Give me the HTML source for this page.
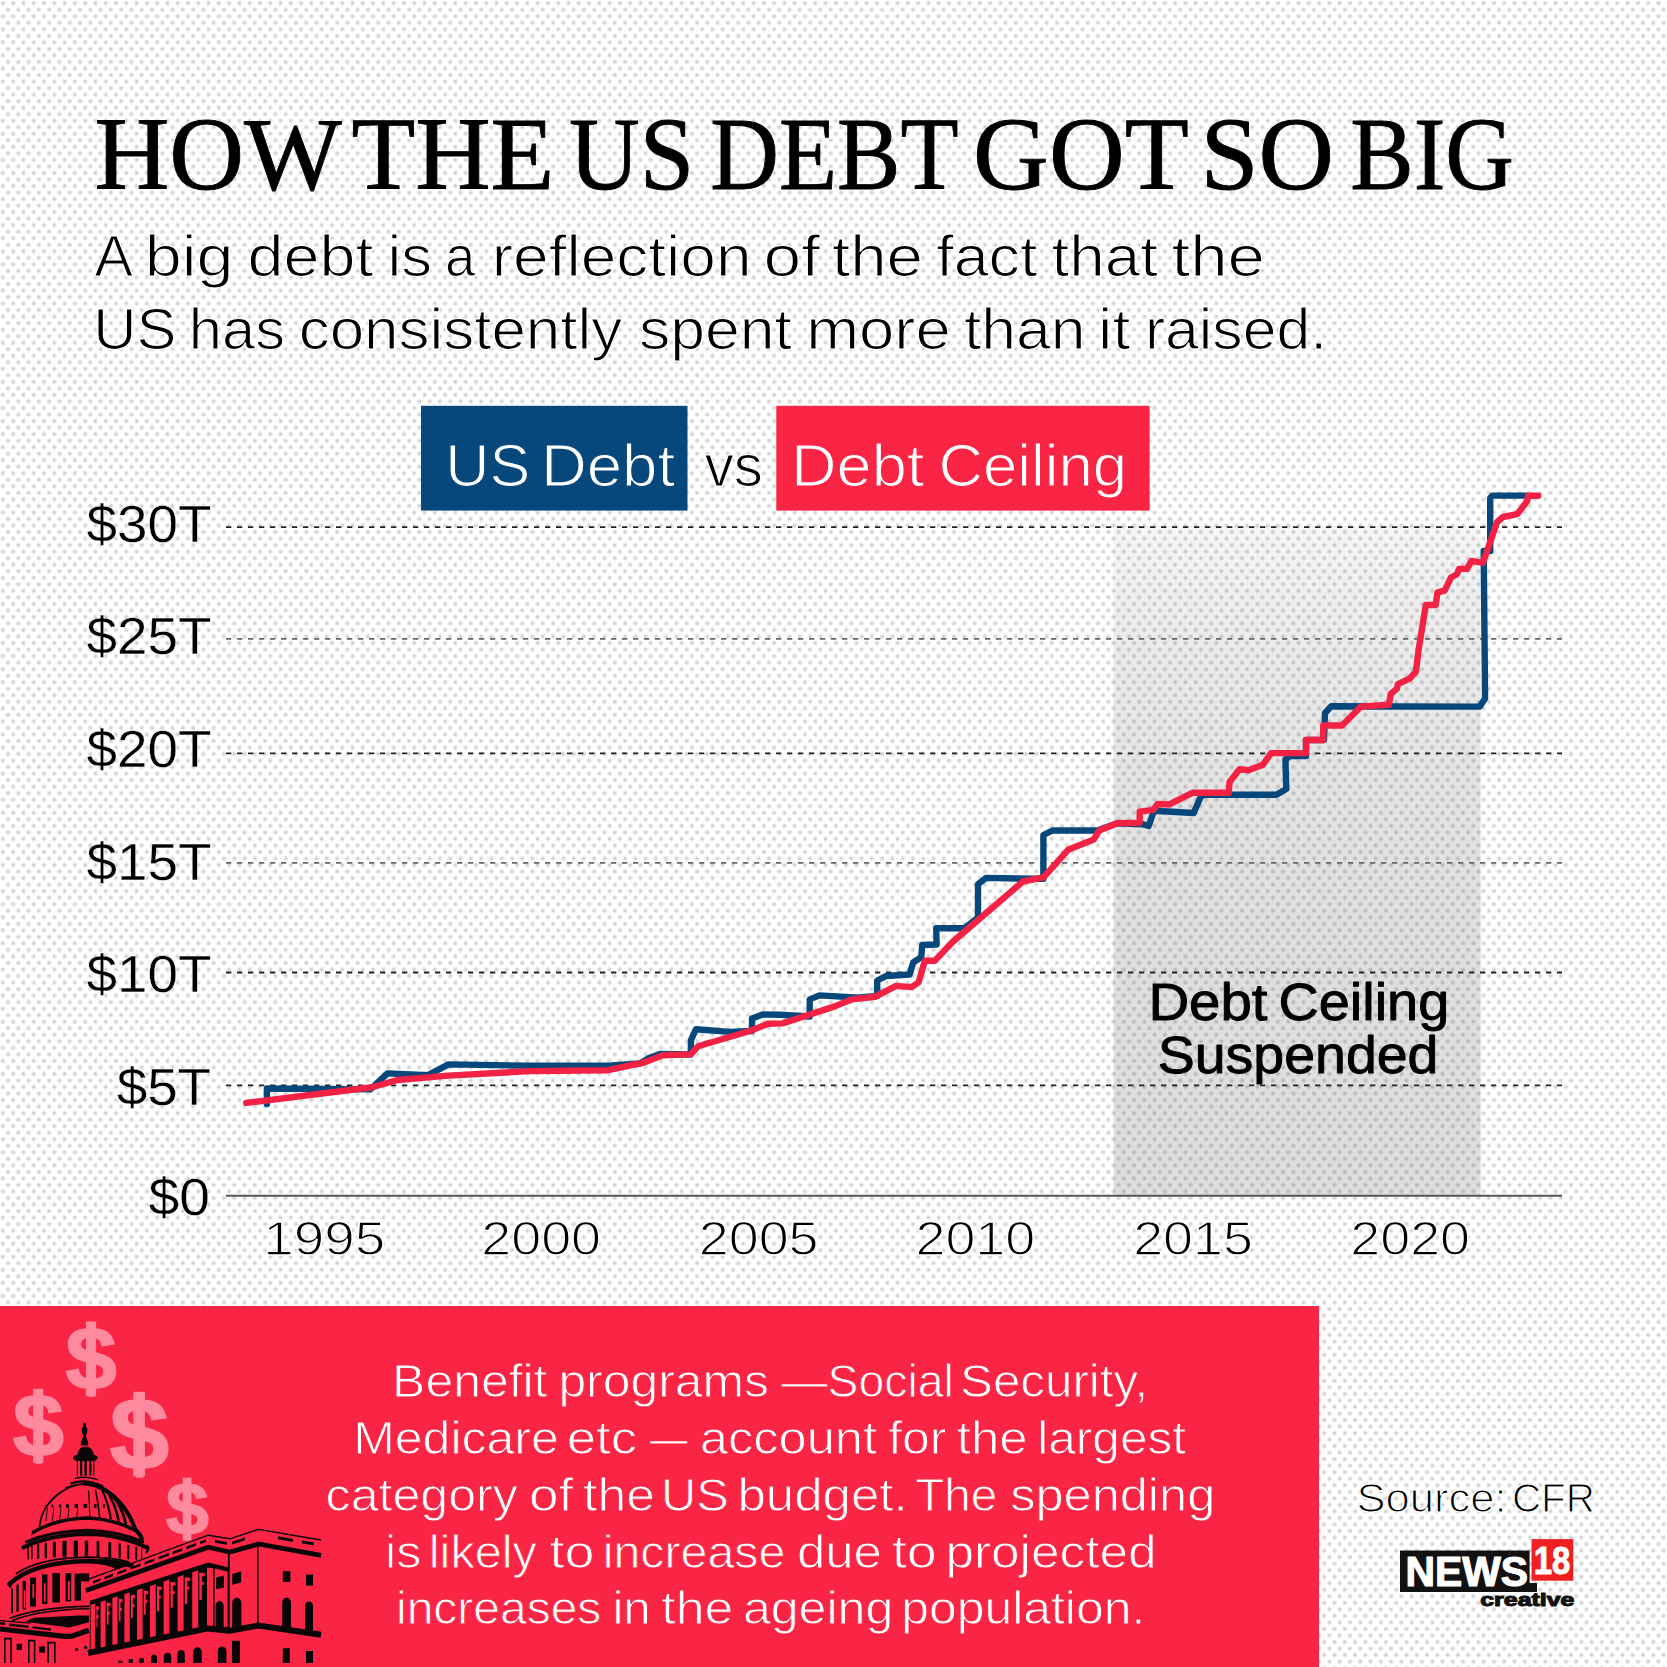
<!DOCTYPE html>
<html><head><meta charset="utf-8"><title>How the US debt got so big</title>
<style>
html,body{margin:0;padding:0;background:#fff;}
body{width:1667px;height:1667px;overflow:hidden;position:relative;font-family:"Liberation Sans",sans-serif;}
svg{position:absolute;left:0;top:0;display:block;}
text{font-family:"Liberation Sans",sans-serif;white-space:pre;}
.serif{font-family:"Liberation Serif",serif;}
</style></head><body>
<svg width="1667" height="1667" viewBox="0 0 1667 1667">
<defs>
<radialGradient id="dg"><stop offset="0" stop-color="#c6c6c6"/><stop offset="0.3" stop-color="#cdcdcd" stop-opacity="0.88"/><stop offset="1" stop-color="#d2d2d2" stop-opacity="0"/></radialGradient>
<pattern id="dots" x="-2.241" y="-3.329" width="10.283" height="13.058" patternUnits="userSpaceOnUse">
<circle cx="5.1415" cy="6.5290" r="3" fill="url(#dg)"/>
<circle cx="0" cy="0" r="3" fill="url(#dg)"/><circle cx="10.283" cy="0" r="3" fill="url(#dg)"/>
<circle cx="0" cy="13.058" r="3" fill="url(#dg)"/><circle cx="10.283" cy="13.058" r="3" fill="url(#dg)"/>
</pattern>
<linearGradient id="band" x1="0" y1="0" x2="0" y2="1"><stop offset="0" stop-color="#000" stop-opacity="0.035"/><stop offset="0.17" stop-color="#000" stop-opacity="0.075"/><stop offset="0.34" stop-color="#000" stop-opacity="0.1"/><stop offset="0.5" stop-color="#000" stop-opacity="0.115"/><stop offset="0.67" stop-color="#000" stop-opacity="0.125"/><stop offset="1" stop-color="#000" stop-opacity="0.13"/></linearGradient>
</defs>
<rect width="1667" height="1667" fill="#fff"/>
<rect width="1667" height="1667" fill="url(#dots)"/>

<rect x="421" y="405.8" width="266.5" height="104.8" fill="#06487c"/>
<rect x="776.3" y="405.8" width="373.3" height="104.8" fill="#fa2445"/>
<rect x="1113.7" y="526" width="367" height="669.8" fill="url(#band)"/>
<line x1="226" y1="527.1" x2="1562" y2="527.1" stroke="#222" stroke-width="1.8" stroke-dasharray="5.3 5.7"/>
<line x1="226" y1="638.9" x2="1562" y2="638.9" stroke="#666" stroke-width="1.8" stroke-dasharray="5.3 5.7"/>
<line x1="226" y1="753.4" x2="1562" y2="753.4" stroke="#222" stroke-width="1.8" stroke-dasharray="5.3 5.7"/>
<line x1="226" y1="862.9" x2="1562" y2="862.9" stroke="#666" stroke-width="1.8" stroke-dasharray="5.3 5.7"/>
<line x1="226" y1="972.5" x2="1562" y2="972.5" stroke="#222" stroke-width="1.8" stroke-dasharray="5.3 5.7"/>
<line x1="226" y1="1085.4" x2="1562" y2="1085.4" stroke="#222" stroke-width="1.8" stroke-dasharray="5.3 5.7"/>
<line x1="226" y1="1195.8" x2="1562" y2="1195.8" stroke="#555" stroke-width="2"/>
<rect x="0" y="1306" width="1319" height="361" fill="#fa2445"/>
<path d="M266.9,1104.0 L266.9,1088.5 L370.4,1089.4 L387.5,1073.4 L428.0,1075.2 L448.6,1064.4 L530.0,1065.7 L611.6,1065.5 L640.0,1063.5 L649.0,1058.0 L660.0,1054.0 L690.7,1054.5 L691.0,1040.0 L696.0,1029.2 L730.0,1031.9 L752.0,1031.0 L752.0,1018.4 L762.7,1014.4 L780.0,1014.7 L809.7,1016.5 L809.7,999.4 L819.6,995.4 L857.4,997.6 L877.2,996.0 L877.2,980.5 L886.2,976.0 L909.6,974.5 L913.2,962.5 L921.3,957.1 L922.2,945.0 L936.6,944.5 L936.2,928.3 L964.4,928.3 L978.0,917.5 L978.0,884.2 L986.0,877.9 L1032.0,878.8 L1043.4,878.8 L1043.4,835.0 L1052.4,830.5 L1097.4,830.5 L1117.2,823.3 L1142.4,824.2 L1148.7,826.0 L1154.0,810.7 L1193.7,813.0 L1200.9,796.3 L1205.0,794.8 L1276.4,794.8 L1286.3,789.1 L1285.4,759.4 L1290.0,756.1 L1306.0,756.0 L1306.0,740.0 L1324.0,740.0 L1325.0,713.0 L1331.3,706.3 L1479.7,706.6 L1485.1,698.5 L1483.7,551.0 L1490.2,551.0 L1490.2,498.0 L1492.3,495.6 L1527.0,495.6" fill="none" stroke="#06487c" stroke-width="6.4" stroke-linejoin="round" stroke-linecap="round"/>
<path d="M246.2,1102.9 L372.2,1087.3 L397.4,1080.0 L448.6,1075.6 L530.0,1071.1 L608.0,1070.2 L644.0,1062.5 L662.9,1055.3 L690.7,1054.4 L698.0,1046.3 L750.0,1031.0 L768.0,1023.8 L782.5,1023.4 L834.0,1006.6 L852.0,999.4 L875.4,996.7 L896.0,985.9 L911.4,987.1 L918.6,982.3 L924.9,960.7 L934.8,960.7 L952.8,941.8 L1022.9,881.5 L1043.6,877.4 L1068.6,849.4 L1093.8,839.5 L1099.2,830.5 L1117.2,823.3 L1139.7,822.7 L1139.7,811.6 L1153.2,809.8 L1157.7,804.0 L1169.4,804.4 L1192.8,792.7 L1228.7,792.7 L1229.6,781.9 L1239.5,769.3 L1248.5,770.2 L1262.9,764.8 L1271.0,753.1 L1306.0,753.1 L1306.0,740.0 L1323.2,740.0 L1323.2,725.5 L1342.0,725.5 L1361.0,706.6 L1388.9,704.8 L1390.7,694.0 L1397.0,688.6 L1397.9,684.1 L1409.6,678.7 L1415.9,671.5 L1418.6,650.0 L1425.8,605.0 L1435.7,605.0 L1437.5,592.4 L1444.7,590.6 L1451.0,577.5 L1457.0,574.2 L1459.0,568.9 L1467.0,568.9 L1471.3,560.9 L1483.0,562.8 L1497.1,522.0 L1503.0,517.0 L1517.3,514.1 L1527.3,501.0 L1528.0,495.8 L1538.3,495.8" fill="none" stroke="#f32244" stroke-width="6.4" stroke-linejoin="round" stroke-linecap="round"/>
<text class="serif" x="94.4" y="188.7" font-size="104" textLength="247.5" lengthAdjust="spacingAndGlyphs" fill="#000" stroke="#000" stroke-width="0.9">HOW</text>
<text class="serif" x="351.4" y="188.7" font-size="104" textLength="203.0" lengthAdjust="spacingAndGlyphs" fill="#000" stroke="#000" stroke-width="0.9">THE</text>
<text class="serif" x="569.1" y="188.7" font-size="104" textLength="125.2" lengthAdjust="spacingAndGlyphs" fill="#000" stroke="#000" stroke-width="0.9">US</text>
<text class="serif" x="710.3" y="188.7" font-size="104" textLength="248.2" lengthAdjust="spacingAndGlyphs" fill="#000" stroke="#000" stroke-width="0.9">DEBT</text>
<text class="serif" x="973.1" y="188.7" font-size="104" textLength="215.7" lengthAdjust="spacingAndGlyphs" fill="#000" stroke="#000" stroke-width="0.9">GOT</text>
<text class="serif" x="1200.4" y="188.7" font-size="104" textLength="133.6" lengthAdjust="spacingAndGlyphs" fill="#000" stroke="#000" stroke-width="0.9">SO</text>
<text class="serif" x="1350.3" y="188.7" font-size="104" textLength="163.7" lengthAdjust="spacingAndGlyphs" fill="#000" stroke="#000" stroke-width="0.9">BIG</text>
<text x="94.4" y="276.4" font-size="57.5" textLength="38.5" lengthAdjust="spacingAndGlyphs" fill="#000" stroke="#fff" stroke-width="1.2">A</text>
<text x="144.8" y="276.4" font-size="57.5" textLength="88.8" lengthAdjust="spacingAndGlyphs" fill="#000" stroke="#fff" stroke-width="1.2">big</text>
<text x="247.6" y="276.4" font-size="57.5" textLength="125.9" lengthAdjust="spacingAndGlyphs" fill="#000" stroke="#fff" stroke-width="1.2">debt</text>
<text x="387.6" y="276.4" font-size="57.5" textLength="44.5" lengthAdjust="spacingAndGlyphs" fill="#000" stroke="#fff" stroke-width="1.2">is</text>
<text x="445.1" y="276.4" font-size="57.5" textLength="30.3" lengthAdjust="spacingAndGlyphs" fill="#000" stroke="#fff" stroke-width="1.2">a</text>
<text x="491.8" y="276.4" font-size="57.5" textLength="259.7" lengthAdjust="spacingAndGlyphs" fill="#000" stroke="#fff" stroke-width="1.2">reflection</text>
<text x="763.5" y="276.4" font-size="57.5" textLength="56.5" lengthAdjust="spacingAndGlyphs" fill="#000" stroke="#fff" stroke-width="1.2">of</text>
<text x="832.0" y="276.4" font-size="57.5" textLength="91.0" lengthAdjust="spacingAndGlyphs" fill="#000" stroke="#fff" stroke-width="1.2">the</text>
<text x="936.2" y="276.4" font-size="57.5" textLength="101.3" lengthAdjust="spacingAndGlyphs" fill="#000" stroke="#fff" stroke-width="1.2">fact</text>
<text x="1051.5" y="276.4" font-size="57.5" textLength="106.4" lengthAdjust="spacingAndGlyphs" fill="#000" stroke="#fff" stroke-width="1.2">that</text>
<text x="1171.5" y="276.4" font-size="57.5" textLength="93.5" lengthAdjust="spacingAndGlyphs" fill="#000" stroke="#fff" stroke-width="1.2">the</text>
<text x="93.3" y="349" font-size="57.5" textLength="83.2" lengthAdjust="spacingAndGlyphs" fill="#000" stroke="#fff" stroke-width="1.2">US</text>
<text x="188.8" y="349" font-size="57.5" textLength="96.2" lengthAdjust="spacingAndGlyphs" fill="#000" stroke="#fff" stroke-width="1.2">has</text>
<text x="298.7" y="349" font-size="57.5" textLength="323.5" lengthAdjust="spacingAndGlyphs" fill="#000" stroke="#fff" stroke-width="1.2">consistently</text>
<text x="638.9" y="349" font-size="57.5" textLength="153.0" lengthAdjust="spacingAndGlyphs" fill="#000" stroke="#fff" stroke-width="1.2">spent</text>
<text x="806.2" y="349" font-size="57.5" textLength="144.5" lengthAdjust="spacingAndGlyphs" fill="#000" stroke="#fff" stroke-width="1.2">more</text>
<text x="963.9" y="349" font-size="57.5" textLength="121.6" lengthAdjust="spacingAndGlyphs" fill="#000" stroke="#fff" stroke-width="1.2">than</text>
<text x="1098.1" y="349" font-size="57.5" textLength="32.3" lengthAdjust="spacingAndGlyphs" fill="#000" stroke="#fff" stroke-width="1.2">it</text>
<text x="1144.9" y="349" font-size="57.5" textLength="182.2" lengthAdjust="spacingAndGlyphs" fill="#000" stroke="#fff" stroke-width="1.2">raised.</text>
<text x="445.3" y="485.8" font-size="58.5" textLength="85.0" lengthAdjust="spacingAndGlyphs" fill="#fff" stroke="#06487c" stroke-width="1.2">US</text>
<text x="540.9" y="485.8" font-size="58.5" textLength="134.2" lengthAdjust="spacingAndGlyphs" fill="#fff" stroke="#06487c" stroke-width="1.2">Debt</text>
<text x="704.7" y="485.8" font-size="58.5" textLength="58.1" lengthAdjust="spacingAndGlyphs" fill="#000" stroke="#fff" stroke-width="1.2">vs</text>
<text x="791.0" y="485.8" font-size="58.5" textLength="133.4" lengthAdjust="spacingAndGlyphs" fill="#fff" stroke="#fa2445" stroke-width="1.2">Debt</text>
<text x="938.4" y="485.8" font-size="58.5" textLength="188.8" lengthAdjust="spacingAndGlyphs" fill="#fff" stroke="#fa2445" stroke-width="1.2">Ceiling</text>
<text x="86.6" y="541.8" font-size="52" textLength="124.9" lengthAdjust="spacingAndGlyphs" fill="#000" stroke="#fff" stroke-width="0.35">$30T</text>
<text x="86.6" y="653.7" font-size="52" textLength="124.9" lengthAdjust="spacingAndGlyphs" fill="#000" stroke="#fff" stroke-width="0.35">$25T</text>
<text x="86.6" y="766.8" font-size="52" textLength="124.9" lengthAdjust="spacingAndGlyphs" fill="#000" stroke="#fff" stroke-width="0.35">$20T</text>
<text x="86.6" y="879.7" font-size="52" textLength="124.9" lengthAdjust="spacingAndGlyphs" fill="#000" stroke="#fff" stroke-width="0.35">$15T</text>
<text x="86.6" y="991.9" font-size="52" textLength="124.9" lengthAdjust="spacingAndGlyphs" fill="#000" stroke="#fff" stroke-width="0.35">$10T</text>
<text x="116.7" y="1104.5" font-size="52" textLength="94.4" lengthAdjust="spacingAndGlyphs" fill="#000" stroke="#fff" stroke-width="0.35">$5T</text>
<text x="148.5" y="1214.8" font-size="52" textLength="61.4" lengthAdjust="spacingAndGlyphs" fill="#000" stroke="#fff" stroke-width="0.35">$0</text>
<text x="263.3" y="1254.5" font-size="48" textLength="122.0" lengthAdjust="spacingAndGlyphs" fill="#000" stroke="#fff" stroke-width="1.3">1995</text>
<text x="481.3" y="1254.5" font-size="48" textLength="119.7" lengthAdjust="spacingAndGlyphs" fill="#000" stroke="#fff" stroke-width="1.3">2000</text>
<text x="698.8" y="1254.5" font-size="48" textLength="119.7" lengthAdjust="spacingAndGlyphs" fill="#000" stroke="#fff" stroke-width="1.3">2005</text>
<text x="915.5" y="1254.5" font-size="48" textLength="119.7" lengthAdjust="spacingAndGlyphs" fill="#000" stroke="#fff" stroke-width="1.3">2010</text>
<text x="1133.2" y="1254.5" font-size="48" textLength="119.7" lengthAdjust="spacingAndGlyphs" fill="#000" stroke="#fff" stroke-width="1.3">2015</text>
<text x="1350.3" y="1254.5" font-size="48" textLength="119.7" lengthAdjust="spacingAndGlyphs" fill="#000" stroke="#fff" stroke-width="1.3">2020</text>
<text x="1148.4" y="1020.2" font-size="51" textLength="119.1" lengthAdjust="spacingAndGlyphs" fill="#000" stroke="#000" stroke-width="0.9" stroke-linejoin="round">Debt</text>
<text x="1278.4" y="1020.2" font-size="51" textLength="170.9" lengthAdjust="spacingAndGlyphs" fill="#000" stroke="#000" stroke-width="0.9" stroke-linejoin="round">Ceiling</text>
<text x="1157.7" y="1073.2" font-size="51" textLength="280.8" lengthAdjust="spacingAndGlyphs" fill="#000" stroke="#000" stroke-width="0.9" stroke-linejoin="round">Suspended</text>
<text x="392.1" y="1397" font-size="47" textLength="155.4" lengthAdjust="spacingAndGlyphs" fill="#fff" stroke="#fa2445" stroke-width="0.9">Benefit</text>
<text x="558.4" y="1397" font-size="47" textLength="210.6" lengthAdjust="spacingAndGlyphs" fill="#fff" stroke="#fa2445" stroke-width="0.9">programs</text>
<text x="781.2" y="1397" font-size="47" textLength="172.7" lengthAdjust="spacingAndGlyphs" fill="#fff" stroke="#fa2445" stroke-width="0.9">—Social</text>
<text x="960.0" y="1397" font-size="47" textLength="188.2" lengthAdjust="spacingAndGlyphs" fill="#fff" stroke="#fa2445" stroke-width="0.9">Security,</text>
<text x="353.2" y="1454" font-size="47" textLength="205.5" lengthAdjust="spacingAndGlyphs" fill="#fff" stroke="#fa2445" stroke-width="0.9">Medicare</text>
<text x="566.8" y="1454" font-size="47" textLength="70.3" lengthAdjust="spacingAndGlyphs" fill="#fff" stroke="#fa2445" stroke-width="0.9">etc</text>
<text x="650.0" y="1454" font-size="47" textLength="37.4" lengthAdjust="spacingAndGlyphs" fill="#fff" stroke="#fa2445" stroke-width="0.9">—</text>
<text x="699.8" y="1454" font-size="47" textLength="177.3" lengthAdjust="spacingAndGlyphs" fill="#fff" stroke="#fa2445" stroke-width="0.9">account</text>
<text x="888.2" y="1454" font-size="47" textLength="58.3" lengthAdjust="spacingAndGlyphs" fill="#fff" stroke="#fa2445" stroke-width="0.9">for</text>
<text x="956.8" y="1454" font-size="47" textLength="70.7" lengthAdjust="spacingAndGlyphs" fill="#fff" stroke="#fa2445" stroke-width="0.9">the</text>
<text x="1037.3" y="1454" font-size="47" textLength="148.7" lengthAdjust="spacingAndGlyphs" fill="#fff" stroke="#fa2445" stroke-width="0.9">largest</text>
<text x="325.6" y="1511" font-size="47" textLength="192.2" lengthAdjust="spacingAndGlyphs" fill="#fff" stroke="#fa2445" stroke-width="0.9">category</text>
<text x="529.0" y="1511" font-size="47" textLength="44.3" lengthAdjust="spacingAndGlyphs" fill="#fff" stroke="#fa2445" stroke-width="0.9">of</text>
<text x="583.1" y="1511" font-size="47" textLength="71.8" lengthAdjust="spacingAndGlyphs" fill="#fff" stroke="#fa2445" stroke-width="0.9">the</text>
<text x="661.0" y="1511" font-size="47" textLength="67.8" lengthAdjust="spacingAndGlyphs" fill="#fff" stroke="#fa2445" stroke-width="0.9">US</text>
<text x="737.5" y="1511" font-size="47" textLength="170.1" lengthAdjust="spacingAndGlyphs" fill="#fff" stroke="#fa2445" stroke-width="0.9">budget.</text>
<text x="915.2" y="1511" font-size="47" textLength="82.1" lengthAdjust="spacingAndGlyphs" fill="#fff" stroke="#fa2445" stroke-width="0.9">The</text>
<text x="1010.2" y="1511" font-size="47" textLength="205.1" lengthAdjust="spacingAndGlyphs" fill="#fff" stroke="#fa2445" stroke-width="0.9">spending</text>
<text x="385.0" y="1567.5" font-size="47" textLength="36.2" lengthAdjust="spacingAndGlyphs" fill="#fff" stroke="#fa2445" stroke-width="0.9">is</text>
<text x="428.8" y="1567.5" font-size="47" textLength="108.0" lengthAdjust="spacingAndGlyphs" fill="#fff" stroke="#fa2445" stroke-width="0.9">likely</text>
<text x="549.6" y="1567.5" font-size="47" textLength="44.9" lengthAdjust="spacingAndGlyphs" fill="#fff" stroke="#fa2445" stroke-width="0.9">to</text>
<text x="602.7" y="1567.5" font-size="47" textLength="182.6" lengthAdjust="spacingAndGlyphs" fill="#fff" stroke="#fa2445" stroke-width="0.9">increase</text>
<text x="796.9" y="1567.5" font-size="47" textLength="84.9" lengthAdjust="spacingAndGlyphs" fill="#fff" stroke="#fa2445" stroke-width="0.9">due</text>
<text x="891.9" y="1567.5" font-size="47" textLength="44.9" lengthAdjust="spacingAndGlyphs" fill="#fff" stroke="#fa2445" stroke-width="0.9">to</text>
<text x="945.4" y="1567.5" font-size="47" textLength="211.2" lengthAdjust="spacingAndGlyphs" fill="#fff" stroke="#fa2445" stroke-width="0.9">projected</text>
<text x="396.0" y="1624.3" font-size="47" textLength="205.3" lengthAdjust="spacingAndGlyphs" fill="#fff" stroke="#fa2445" stroke-width="0.9">increases</text>
<text x="612.4" y="1624.3" font-size="47" textLength="38.4" lengthAdjust="spacingAndGlyphs" fill="#fff" stroke="#fa2445" stroke-width="0.9">in</text>
<text x="661.3" y="1624.3" font-size="47" textLength="71.9" lengthAdjust="spacingAndGlyphs" fill="#fff" stroke="#fa2445" stroke-width="0.9">the</text>
<text x="742.9" y="1624.3" font-size="47" textLength="150.4" lengthAdjust="spacingAndGlyphs" fill="#fff" stroke="#fa2445" stroke-width="0.9">ageing</text>
<text x="901.2" y="1624.3" font-size="47" textLength="244.1" lengthAdjust="spacingAndGlyphs" fill="#fff" stroke="#fa2445" stroke-width="0.9">population.</text>
<text x="1356.5" y="1512" font-size="41.5" textLength="150.2" lengthAdjust="spacingAndGlyphs" fill="#000" stroke="#fff" stroke-width="1.2">Source:</text>
<text x="1511.9" y="1512" font-size="41.5" textLength="83.0" lengthAdjust="spacingAndGlyphs" fill="#000" stroke="#fff" stroke-width="1.2">CFR</text>
<path d="M1400,1550.4 L1529.6,1550.4 L1529.6,1583 L1537,1583 L1537,1591.9 L1400,1591.9z" fill="#111"/>
<rect x="1531.5" y="1539.1" width="41.8" height="41.6" fill="#ef1f22"/>
<text x="1405.4" y="1586.1" font-size="41.8" font-weight="bold" textLength="122.6" lengthAdjust="spacingAndGlyphs" fill="#fff" stroke="#fff" stroke-width="1.2" stroke-linejoin="round">NEWS</text>
<text x="1533.7" y="1573.6" font-size="39.4" font-weight="bold" textLength="36.5" lengthAdjust="spacingAndGlyphs" fill="#fff" stroke="#fff" stroke-width="1" stroke-linejoin="round">18</text>
<text x="1480.2" y="1606" font-size="19" font-weight="bold" textLength="94.3" lengthAdjust="spacingAndGlyphs" fill="#111" stroke="#111" stroke-width="1.1" stroke-linejoin="round">creative</text>
<g id="capitol">
<text transform="matrix(0.9308 0 0 0.8927 65.34 1389.15)" x="0" y="0" font-size="100" font-weight="bold" fill="#ff8a9d" stroke="#ff8a9d" stroke-width="1.5">$</text>
<rect x="85.9" y="1321.5" width="10.2" height="74.6" fill="#ff8a9d"/>
<text transform="matrix(0.9288 0 0 0.8854 12.54 1456.00)" x="0" y="0" font-size="100" font-weight="bold" fill="#ff8a9d" stroke="#ff8a9d" stroke-width="1.5">$</text>
<rect x="33.1" y="1388.9" width="10.2" height="74.0" fill="#ff8a9d"/>
<text transform="matrix(1.0750 0 0 1.0134 109.45 1468.51)" x="0" y="0" font-size="100" font-weight="bold" fill="#ff8a9d" stroke="#ff8a9d" stroke-width="1.5">$</text>
<rect x="133.3" y="1391.8" width="11.7" height="84.5" fill="#ff8a9d"/>
<text transform="matrix(0.7846 0 0 0.7476 165.43 1534.47)" x="0" y="0" font-size="100" font-weight="bold" fill="#ff8a9d" stroke="#ff8a9d" stroke-width="1.5">$</text>
<rect x="182.7" y="1477.7" width="8.7" height="62.7" fill="#ff8a9d"/>
<g fill="#0a0608" stroke="none">
<path d="M84.6,1422.6 C85.8,1422.6 86.4,1423.6 86.2,1424.8 L85.8,1426.6 C87.2,1427.4 87.6,1428.6 87.4,1430.4 L87,1433 L86,1435 L86.2,1437.6 C86.8,1439 87.8,1440.4 88,1442.4 L88.2,1445.6 L80.8,1445.6 L81,1442.4 C81.2,1440.4 82.4,1439 83,1437.6 L83.2,1435 L82.2,1433 L81.8,1430.4 C81.6,1428.6 82,1427.4 83.4,1426.6 L83,1424.8 C82.8,1423.6 83.4,1422.6 84.6,1422.6z"/>
<path d="M77.4,1455.4 C78,1449.6 81,1446.8 85.4,1446.6 C90,1446.8 93.2,1449.6 94,1455.4z"/>
<path d="M73,1457.6 C73.4,1455.4 77,1454.2 85.4,1454 C94,1454.2 97.4,1455.4 97.8,1457.6 C97.6,1459.2 96.4,1460.4 94.6,1461 L76.2,1461 C74.4,1460.4 73.2,1459.2 73,1457.6z"/>
</g>
<g fill="#0a0608">
<rect x="76.8" y="1461" width="1.2" height="14.6"/>
<rect x="80" y="1461" width="2.2" height="14.6"/>
<rect x="84.4" y="1461" width="2.4" height="14.6"/>
<rect x="89.5" y="1461" width="1.9" height="14.6"/>
<rect x="93.2" y="1461" width="1.2" height="14.6"/>
</g>
<g fill="none" stroke="#0a0608" stroke-linecap="round">
<path d="M75.4,1478.2 Q85.5,1475.6 97.2,1479.6" stroke-width="1.6"/>
<path d="M71.2,1483.4 Q85.5,1478.4 102.4,1486" stroke-width="2.2"/>
<path d="M66,1487.6 Q85,1481.4 100,1486.4" stroke-width="1.2"/>
<path d="M39.6,1526 C41,1512 50,1496 71,1486.6 C76,1484.6 81,1483.8 85.2,1483.8" stroke-width="1.8"/>
<path d="M85.2,1483.8 C99,1484.6 112,1493 122,1505 C129,1514 133,1522 135.4,1530" stroke-width="4"/>
<path d="M88.6,1491 C89.2,1500 89.6,1508 89.8,1516.2" stroke-width="1.2"/>
<path d="M95.6,1490.4 C97.4,1499 98.8,1508 99.6,1516.8" stroke-width="1.6"/>
<path d="M102,1489.6 C106,1498 109,1508 110.8,1518.4" stroke-width="2.2"/>
<path d="M107.4,1491.6 C112.6,1500 116.6,1510 118.6,1520.8" stroke-width="2.6"/>
<path d="M112.4,1494.6 C118.6,1503 123.4,1512 125.8,1523.6" stroke-width="2.8"/>
<path d="M47.4,1508 L46,1520.6" stroke-width="0.9"/>
<path d="M53.8,1508 L52.4,1520.6" stroke-width="0.9"/>
<path d="M61.0,1508 L59.6,1520.6" stroke-width="0.9"/>
<path d="M69.0,1508 L67.6,1520.6" stroke-width="0.9"/>
<path d="M77.80000000000001,1508 L76.4,1520.6" stroke-width="0.9"/>
</g>
<g fill="#0a0608">
<rect x="45.4" y="1504.9" width="1.6" height="2.2"/>
<rect x="51.4" y="1504.7" width="2" height="2.6"/>
<rect x="58.8" y="1504.5" width="2.4" height="3"/>
<rect x="66" y="1504.3" width="3" height="3.4"/>
<rect x="74.6" y="1504.1" width="3.4" height="3.8"/>
<rect x="83.6" y="1504.0" width="3.6" height="4"/>
<rect x="94" y="1504.1" width="2.6" height="3.8"/>
<rect x="103" y="1504.3" width="2" height="3.4"/>
</g>
<g fill="none" stroke="#0a0608" stroke-linecap="round">
<path d="M33.4,1532.2 C48,1523.4 66,1518.6 86.6,1518 C104,1518.4 121,1523 135.6,1530.4" stroke-width="3.4"/>
<path d="M31.6,1534.6 C40,1528.6 52,1524 64,1521.6" stroke-width="1"/>
<path d="M134.8,1529 C138,1532 140.6,1535 141.8,1538.6" stroke-width="4.4"/>
<path d="M26.4,1541.8 C44,1534.2 64,1530.6 87.6,1530.2 C108,1530.6 127,1535 142.8,1541.8" stroke-width="3"/>
<path d="M23.4,1547.4 C42,1538.4 64,1534.4 87.6,1534 C110,1534.4 131,1539.6 147.6,1548" stroke-width="4"/>
<path d="M147,1546 C148.4,1548.4 148.2,1550.6 146.6,1552.4" stroke-width="2.4"/>
</g>
<g fill="#0a0608">
<rect x="27.4" y="1546.6" width="1.4" height="13" rx="0.7"/>
<rect x="31" y="1545.4" width="1.6" height="14" rx="0.8"/>
<rect x="37" y="1544" width="2.2" height="15" rx="1.1"/>
<rect x="44.6" y="1542.8" width="2.4" height="15.4" rx="1.2"/>
<rect x="52.8" y="1541.6" width="3.2" height="16" rx="1.4"/>
<rect x="62.4" y="1540.8" width="4.2" height="16.4" rx="1.4"/>
<rect x="73.6" y="1540.4" width="4.4" height="16.6" rx="1.4"/>
<rect x="84.8" y="1540.4" width="3.4" height="16.6" rx="1.4"/>
<rect x="96.6" y="1540.8" width="2.8" height="16.4" rx="1.4"/>
<rect x="108.4" y="1541.8" width="2.8" height="16" rx="1.4"/>
<rect x="118.6" y="1543.2" width="2.2" height="15.4" rx="1.1"/>
<rect x="127.2" y="1544.8" width="2.2" height="14.6" rx="1.1"/>
<rect x="135.4" y="1546.4" width="1.8" height="13.6" rx="0.9"/>
<rect x="141" y="1548" width="1.2" height="12.4" rx="0.6"/>
</g>
<g fill="none" stroke="#0a0608" stroke-linecap="round">
<path d="M16.4,1573.4 C34,1562 58,1557.6 88,1557.2 C104,1557.4 118,1559 129,1562" stroke-width="1.8"/>
<path d="M9.4,1584.2 C26,1568 56,1561.4 90,1561 C106,1561.2 120,1562.6 131.4,1565.4" stroke-width="4.6"/>
<path d="M9.4,1584.4 L10.6,1587" stroke-width="2"/>
</g>
<path d="M104,1559 C114,1559.4 124,1561 133.6,1563.4 L116.6,1569.6 C112,1566 100,1564 90,1563.6z" fill="#0a0608"/>
<g fill="#0a0608">
<rect x="11" y="1588.6" width="2" height="24.6"/>
<rect x="16.4" y="1584.6" width="2.4" height="27"/>
<rect x="22.6" y="1581" width="3.4" height="28.6"/>
<rect x="30" y="1577.6" width="6" height="29"/>
<rect x="42" y="1574.4" width="5.4" height="29.6"/>
<rect x="52.4" y="1573" width="7.6" height="29.6"/>
<rect x="65.6" y="1573" width="5.6" height="28.4"/>
<rect x="74.6" y="1573.6" width="6.4" height="27"/>
<rect x="80" y="1573.4" width="9.2" height="8"/>
</g>
<g fill="#fa2445">
<rect x="24" y="1590" width="1.4" height="18" rx="0.8"/>
<rect x="32.4" y="1584" width="1.8" height="14" rx="0.8"/>
<rect x="44" y="1583" width="1.6" height="19" rx="0.8"/>
<rect x="68" y="1581" width="1.8" height="19" rx="0.8"/>
</g>
<g fill="none" stroke="#0a0608" stroke-linecap="round">
<path d="M10,1618.2 C32,1610 60,1606.8 88.6,1606.4" stroke-width="1.6"/>
<path d="M12.4,1620.4 C34,1612.4 60,1609.2 88.6,1608.8" stroke-width="1.6"/>
</g>
<path d="M25.6,1621.2 L34,1617.8 L79.4,1615.6 L88.8,1615.4 L88.8,1622.2 L69.4,1627.4 L31,1622.4z" fill="#0a0608"/>
<g fill="none" stroke="#0a0608" stroke-linecap="butt">
<path d="M0,1620.6 L30.6,1623.2" stroke-width="1.2"/>
<path d="M0,1629 L64.8,1636.4 L71.6,1636.2 L88.8,1630.2" stroke-width="5.2" stroke-linejoin="round"/>
</g>
<g fill="#0a0608">
<path d="M0,1622.2 L5,1622.6 L5,1625 L0,1624.6z"/>
<path d="M9.2,1623.6 L28.6,1625.6 L28.4,1628 L9,1626z"/>
<path d="M32.6,1626.2 L51,1628.4 L50.8,1630.8 L32.4,1628.6z"/>
</g>
<g fill="none" stroke="#0a0608" stroke-width="1.6">
<path d="M4.8,1663 L4.8,1638.6 L11,1638.6 L11,1663"/>
<path d="M28.8,1663 L28.8,1640.6 L34.6,1640.6 L34.6,1663"/>
<path d="M48.2,1663 L48.2,1642.6 L54.8,1642.6 L54.8,1663"/>
</g>
<g fill="#0a0608">
<rect x="16.6" y="1643.8" width="5.4" height="6.2"/><rect x="39.2" y="1646.4" width="5.8" height="6.2"/>
<circle cx="76.6" cy="1649.6" r="1.7"/><circle cx="85.6" cy="1647.4" r="1.7"/>
</g>
<g fill="none" stroke="#0a0608" stroke-linejoin="miter">
<path d="M88.6,1579.2 L208.2,1535.2 L229.8,1538.8 L258.4,1529.4 L321,1540" stroke-width="1.4"/>
<path d="M86,1590.6 L208.2,1547.2 L229.8,1552 L258.4,1544 L321,1555.4" stroke-width="4.8"/>
<path d="M228.8,1552 L228.8,1628" stroke-width="1.8"/>
<path d="M257.8,1545 L257.8,1624.4" stroke-width="1.6"/>
<path d="M88,1653 L207,1628.6 L229.8,1630.8 L258.4,1625.6 L321,1634.8" stroke-width="6"/>
</g>
<g fill="#0a0608">
<path d="M93.0,1581.0 L100.5,1578.2 L100.5,1580.8 L93.0,1583.6z"/>
<path d="M104.5,1576.8 L113.0,1573.6 L113.0,1576.2 L104.5,1579.4z"/>
<path d="M117.0,1572.2 L126.5,1568.7 L126.5,1571.3 L117.0,1574.8z"/>
<path d="M130.5,1567.2 L140.5,1563.5 L140.5,1566.1 L130.5,1569.8z"/>
<path d="M144.6,1562.0 L154.4,1558.4 L154.4,1561.0 L144.6,1564.6z"/>
<path d="M158.4,1556.9 L169.0,1553.0 L169.0,1555.6 L158.4,1559.5z"/>
<path d="M172.6,1551.7 L182.4,1548.1 L182.4,1550.7 L172.6,1554.3z"/>
<path d="M186.4,1546.6 L196.0,1543.1 L196.0,1545.7 L186.4,1549.2z"/>
<path d="M200.0,1541.6 L206.0,1539.4 L206.0,1542.0 L200.0,1544.2z"/>
<path d="M215.0,1539.9 L227.0,1541.9 L227.0,1544.7 L215.0,1542.7z"/>
<path d="M232.0,1541.7 L245.0,1537.4 L245.0,1540.2 L232.0,1544.5z"/>
<path d="M278.0,1536.3 L293.0,1538.9 L293.0,1541.9 L278.0,1539.3z"/>
<path d="M302.0,1540.4 L313.6,1542.3 L313.6,1545.3 L302.0,1543.4z"/>
</g>
<path d="M89.8,1600.8 L208.2,1562.6 L228,1567.2 L228,1629 L207,1628.8 L89.8,1652z" fill="#0a0608"/>
<g fill="#fa2445">
<path d="M90.6,1605.0 L95.19999999999999,1603.6 L95.19999999999999,1648.5 L90.6,1649.5z"/>
<path d="M100.6,1601.8 L105.6,1600.2 L105.6,1646.4 L100.6,1647.4z"/>
<path d="M112.4,1598.0 L117.60000000000001,1596.3 L117.60000000000001,1643.9 L112.4,1645.0z"/>
<path d="M124.4,1594.1 L129.8,1592.4 L129.8,1641.4 L124.4,1642.5z"/>
<path d="M137,1590.1 L142.6,1588.3 L142.6,1638.8 L137,1640.0z"/>
<path d="M150,1585.9 L155.8,1584.0 L155.8,1636.1 L150,1637.3z"/>
<path d="M163.6,1581.5 L169.4,1579.6 L169.4,1633.3 L163.6,1634.5z"/>
<path d="M177.6,1577.0 L183.6,1575.0 L183.6,1630.4 L177.6,1631.6z"/>
<path d="M192.2,1572.3 L198.2,1570.3 L198.2,1627.4 L192.2,1628.6z"/>
<path d="M207,1567.5 L213.2,1568.3 L213.2,1626.0 L207,1625.6z"/>
<rect x="96.4" y="1606.2" width="1.1" height="21.1"/>
<rect x="96.4" y="1606.2" width="2.5" height="3.4"/>
<rect x="96.4" y="1615.2" width="2.1" height="3"/>
<rect x="106.8" y="1602.8" width="1.7" height="21.7"/>
<rect x="106.8" y="1602.8" width="3.7" height="3.4"/>
<rect x="106.8" y="1611.8" width="3.1" height="3"/>
<rect x="118.8" y="1598.9" width="1.7" height="22.4"/>
<rect x="118.8" y="1598.9" width="3.7" height="3.4"/>
<rect x="118.8" y="1607.9" width="3.1" height="3"/>
<rect x="131.0" y="1595.0" width="1.8" height="23.1"/>
<rect x="131.0" y="1595.0" width="4.1" height="3.4"/>
<rect x="131.0" y="1604.0" width="3.4" height="3"/>
<rect x="143.8" y="1590.9" width="1.9" height="23.8"/>
<rect x="143.8" y="1590.9" width="4.3" height="3.4"/>
<rect x="143.8" y="1599.9" width="3.5" height="3"/>
<rect x="157.0" y="1586.6" width="2.1" height="24.6"/>
<rect x="157.0" y="1586.6" width="4.6" height="3.4"/>
<rect x="157.0" y="1595.6" width="3.8" height="3"/>
<rect x="170.6" y="1582.2" width="2.2" height="25.4"/>
<rect x="170.6" y="1582.2" width="4.9" height="3.4"/>
<rect x="170.6" y="1591.2" width="4.1" height="3"/>
<rect x="184.8" y="1577.6" width="2.4" height="26.3"/>
<rect x="184.8" y="1577.6" width="5.3" height="3.4"/>
<rect x="184.8" y="1586.6" width="4.3" height="3"/>
<rect x="199.4" y="1572.9" width="2.4" height="27.1"/>
<rect x="199.4" y="1572.9" width="5.4" height="3.4"/>
<rect x="199.4" y="1581.9" width="4.5" height="3"/>
<path d="M214.6,1568.6 L227.6,1571.6 L227.6,1627 L214.6,1626.6z"/>
</g>
<g fill="#0a0608">
<path d="M216.2,1577.6 L224,1575.4 L224,1587.6 L216.2,1589.2z"/>
<path d="M215.6,1628 L215.6,1606 A4,4.6 0 0 1 223.6,1605.4 L223.6,1628z"/>
<path d="M232.2,1574 L241.2,1571.2 L241.2,1582.6 L232.2,1584.8z"/>
<path d="M232.2,1628 L232.2,1603.4 A4.6,5.4 0 0 1 241.4,1603 L241.4,1628z"/>
<rect x="282.8" y="1571.2" width="7.6" height="10.8"/>
<rect x="306" y="1574.6" width="7" height="11"/>
<path d="M282.2,1628.6 L282.2,1603 A4.4,5.6 0 0 1 291,1603 L291,1629.6z"/>
<path d="M305,1631.6 L305,1606.4 A4,5 0 0 1 313,1606.4 L313,1632.6z"/>
<rect x="118.4" y="1660.6" width="4.0" height="2.4"/>
<rect x="128.6" y="1659.2" width="4.2" height="3.8"/>
<rect x="139.2" y="1658.2" width="4.6" height="4.8"/>
<path d="M151,1663 L151,1658.0 A3.0,3.4 0 0 1 157,1658.0 L157,1663z"/>
<path d="M163.8,1663 L163.8,1657.1 A3.7,4.3 0 0 1 171.2,1657.1 L171.2,1663z"/>
<path d="M177.4,1663 L177.4,1654.3 A3.7,4.3 0 0 1 184.8,1654.3 L184.8,1663z"/>
<path d="M193.2,1663 L193.2,1652.1 A4.3,4.9 0 0 1 201.8,1652.1 L201.8,1663z"/>
<path d="M217.8,1663 L217.8,1651.3 A4.3,4.9 0 0 1 226.4,1651.3 L226.4,1663z"/>
<rect x="232" y="1640.8" width="8" height="22.2"/>
<rect x="282.8" y="1648.2" width="7" height="14.8"/>
<rect x="306" y="1651" width="7" height="12"/>
</g>
</g>
</svg></body></html>
